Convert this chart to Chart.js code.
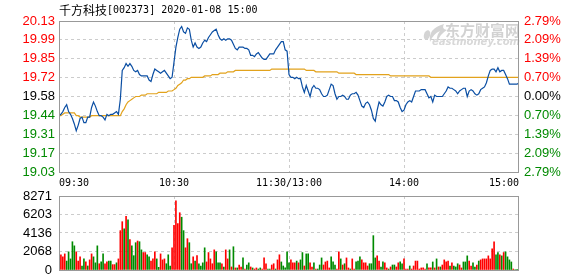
<!DOCTYPE html>
<html>
<head>
<meta charset="utf-8">
<script src="https://cdn.jsdelivr.net/npm/chart.js@4"></script>
<style>
  html, body { margin: 0; padding: 0; background: #fff; }
  #wrap { position: relative; width: 578px; height: 276px; }
  #priceChart { position: absolute; left: 0; top: 0; }
  #volChart { position: absolute; left: 0; top: 186px; }
</style>
</head>
<body>
<div id="wrap">
  <canvas id="priceChart" width="578" height="192"></canvas>
  <canvas id="volChart" width="578" height="90"></canvas>
</div>
<script>
// 千方科技 intraday (分时) chart, 2020-01-08

const stockName = '千方科技';
const stockCode = '002373';
const stamp = '2020-01-08 15:00';

// x ticks (minutes from 09:30, lunch break collapsed)
const timeTicks = [0, 60, 120, 180, 240];
const timeLabels = ['09:30', '10:30', '11:30/13:00', '14:00', '15:00'];

// left / right axis labels, top to bottom
const priceLabels = ['20.13', '19.99', '19.85', '19.72', '19.58', '19.44', '19.31', '19.17', '19.03'];
const pctLabels = ['2.79%', '2.09%', '1.39%', '0.70%', '0.00%', '0.70%', '1.39%', '2.09%', '2.79%'];
const volTicks = [0, 2068, 4136, 6203, 8271];

// last price, one per minute (241 points)
const prices = [
  19.44,19.45,19.47,19.50,19.52,19.47,19.45,19.42,19.38,19.33,
  19.37,19.42,19.43,19.39,19.39,19.43,19.43,19.50,19.54,19.51,
  19.47,19.44,19.44,19.43,19.41,19.45,19.44,19.45,19.45,19.46,
  19.47,19.45,19.56,19.77,19.79,19.82,19.80,19.82,19.80,19.77,
  19.76,19.77,19.74,19.73,19.73,19.73,19.73,19.70,19.69,19.74,
  19.78,19.77,19.76,19.75,19.76,19.77,19.75,19.73,19.71,19.72,
  19.83,19.94,20.01,20.07,20.09,20.05,20.04,20.08,20.07,19.99,
  19.94,19.97,19.94,19.93,19.94,19.97,19.99,19.98,20.01,20.03,
  20.05,20.06,20.07,20.03,20.00,19.99,20.00,19.99,20.00,20.00,
  19.99,19.96,19.93,19.92,19.94,19.94,19.94,19.93,19.93,19.92,
  19.88,19.88,19.87,19.89,19.90,19.88,19.86,19.85,19.85,19.87,
  19.89,19.89,19.89,19.92,19.94,19.96,19.98,19.98,19.92,19.91,
  19.74,19.72,19.72,19.71,19.72,19.71,19.71,19.65,19.61,19.66,
  19.62,19.58,19.64,19.66,19.64,19.64,19.63,19.60,19.58,19.58,
  19.59,19.63,19.67,19.66,19.60,19.56,19.58,19.58,19.59,19.58,
  19.56,19.56,19.59,19.60,19.60,19.61,19.59,19.55,19.51,19.50,
  19.53,19.54,19.52,19.48,19.42,19.40,19.48,19.54,19.52,19.51,
  19.54,19.58,19.59,19.58,19.58,19.55,19.55,19.54,19.50,19.47,
  19.48,19.52,19.54,19.55,19.54,19.58,19.62,19.62,19.62,19.63,
  19.63,19.63,19.60,19.57,19.58,19.54,19.59,19.58,19.58,19.58,
  19.58,19.60,19.62,19.65,19.64,19.64,19.63,19.62,19.60,19.62,
  19.63,19.64,19.64,19.58,19.62,19.63,19.62,19.60,19.59,19.60,
  19.63,19.64,19.65,19.68,19.73,19.77,19.78,19.78,19.76,19.79,
  19.76,19.77,19.77,19.74,19.71,19.67,19.67,19.67,19.67,19.67,
  19.68
];

// average price line (均价)
const avgPrices = [
  19.44,19.44,19.45,19.46,19.46,19.46,19.46,19.46,19.46,19.44,
  19.44,19.43,19.43,19.43,19.43,19.43,19.43,19.44,19.44,19.44,
  19.44,19.44,19.44,19.44,19.44,19.44,19.44,19.44,19.44,19.44,
  19.44,19.44,19.44,19.47,19.49,19.52,19.54,19.55,19.56,19.57,
  19.58,19.58,19.58,19.59,19.59,19.59,19.60,19.60,19.60,19.60,
  19.60,19.60,19.61,19.61,19.61,19.61,19.61,19.62,19.62,19.62,
  19.63,19.64,19.66,19.67,19.68,19.70,19.70,19.71,19.71,19.72,
  19.72,19.72,19.72,19.72,19.72,19.72,19.73,19.73,19.73,19.73,
  19.74,19.74,19.74,19.74,19.75,19.75,19.75,19.75,19.76,19.76,
  19.76,19.76,19.77,19.77,19.77,19.77,19.77,19.77,19.77,19.77,
  19.77,19.77,19.77,19.77,19.77,19.77,19.77,19.77,19.77,19.77,
  19.77,19.78,19.78,19.78,19.78,19.78,19.78,19.78,19.78,19.78,
  19.78,19.78,19.78,19.78,19.78,19.78,19.78,19.78,19.78,19.77,
  19.77,19.77,19.77,19.77,19.76,19.76,19.76,19.76,19.76,19.76,
  19.76,19.76,19.76,19.76,19.76,19.76,19.75,19.75,19.75,19.75,
  19.75,19.75,19.75,19.75,19.75,19.74,19.74,19.74,19.74,19.74,
  19.74,19.74,19.74,19.74,19.74,19.74,19.74,19.74,19.74,19.74,
  19.74,19.74,19.74,19.73,19.73,19.73,19.73,19.73,19.73,19.73,
  19.73,19.73,19.73,19.73,19.73,19.73,19.73,19.73,19.73,19.73,
  19.73,19.73,19.73,19.73,19.72,19.72,19.72,19.72,19.72,19.72,
  19.72,19.72,19.72,19.72,19.72,19.72,19.72,19.72,19.72,19.72,
  19.72,19.72,19.72,19.72,19.72,19.72,19.72,19.72,19.72,19.72,
  19.72,19.72,19.72,19.72,19.72,19.72,19.72,19.72,19.72,19.72,
  19.72,19.72,19.72,19.72,19.72,19.72,19.72,19.72,19.72,19.72,
  19.72
];

// volume per minute (手)
const volumes = [
  4290,1690,1470,1800,1000,2030,1240,3160,2700,2030,
  1000,1470,450,1240,900,450,1130,1800,1470,800,
  2700,700,900,1800,700,900,1000,1000,600,600,
  800,1240,4400,5400,4600,6000,5600,3400,2700,1600,
  3050,3240,3160,2250,1950,1950,1700,1470,1000,1240,
  2030,1240,300,1800,1130,1240,700,1700,450,2480,
  5000,7720,5200,6400,5900,4400,2480,3500,3050,700,
  1470,1000,1600,700,450,800,2480,900,1950,1240,
  700,2250,2030,800,800,700,340,2250,1240,2250,
  340,2600,230,230,560,340,1350,110,560,800,
  340,230,110,230,110,230,110,1350,700,110,
  110,560,700,110,1130,1700,900,450,230,2030,
  800,1130,800,800,1000,800,1130,1950,450,1800,
  1800,800,340,800,110,110,560,1350,560,900,
  1000,230,1470,900,560,110,2030,1240,560,700,
  1350,230,110,1240,110,900,1000,1470,1130,800,
  800,450,700,700,3840,1350,1580,1000,340,900,
  800,230,110,340,560,560,340,800,900,700,
  1240,110,110,450,110,450,1000,1000,110,230,
  230,110,700,230,230,900,230,1240,340,340,
  560,1130,900,1000,450,800,450,340,700,560,
  230,900,900,1580,1000,450,800,340,560,1000,
  1130,1240,1240,1240,1580,1240,2370,3160,1700,1950,
  1700,1580,1950,2030,1470,1130,900,110,60,40,
  2140
];

// 1 = up tick (red), -1 = down tick (green)
const volDir = [
   1, 1, 1, 1,-1,-1,-1,-1,-1, 1,
   1, 1,-1,-1, 1,-1, 1, 1,-1,-1,
  -1, 1,-1,-1, 1, 1,-1,-1, 1, 1,
  -1, 1, 1, 1,-1, 1,-1, 1,-1,-1,
  -1, 1,-1,-1, 1, 1,-1,-1, 1, 1,
   1,-1,-1, 1, 1, 1,-1,-1,-1, 1,
   1, 1, 1, 1,-1,-1, 1, 1,-1,-1,
   1,-1, 1,-1,-1,-1,-1, 1, 1, 1,
   1, 1,-1,-1,-1, 1,-1, 1, 1,-1,
   1,-1, 1,-1, 1, 1,-1, 1,-1,-1,
   1,-1, 1, 1,-1,-1, 1, 1, 1,-1,
  -1, 1, 1,-1, 1, 1,-1,-1,-1,-1,
  -1, 1, 1, 1,-1, 1,-1,-1, 1,-1,
  -1, 1, 1,-1, 1,-1,-1,-1, 1, 1,
   1, 1,-1,-1,-1, 1, 1,-1, 1,-1,
   1, 1,-1, 1, 1,-1,-1,-1, 1, 1,
   1, 1,-1,-1,-1,-1, 1, 1,-1,-1,
   1, 1,-1, 1,-1,-1, 1, 1,-1,-1,
   1, 1, 1,-1, 1, 1, 1, 1, 1, 1,
   1, 1,-1, 1, 1,-1, 1,-1, 1,-1,
   1, 1, 1, 1,-1, 1,-1,-1,-1, 1,
   1,-1,-1,-1, 1, 1,-1,-1, 1,-1,
   1, 1, 1, 1, 1, 1, 1, 1,-1,-1,
   1,-1, 1,-1,-1,-1,-1, 1,-1,-1,
   1
];

const UP = '#ff0000';
const DOWN = '#008a00';
const GRID = '#cccccc';
const FRAME = '#999999';
const PLOT_LEFT = 59;   // width of left label column
const PLOT_RIGHT = 59;  // width of right label column

function tickColor(i) {
    if (i < 4) return UP;
    if (i === 4) return '#000000';
    return DOWN;
}

// draw a frame round the plot area
const framePlugin = {
    id: 'frame',
    afterDraw(chart) {
        const a = chart.chartArea;
        const ctx = chart.ctx;
        ctx.save();
        ctx.strokeStyle = FRAME;
        ctx.lineWidth = 1;
        ctx.strokeRect(Math.round(a.left) + 0.5, Math.round(a.top) + 0.5,
            Math.round(a.right - a.left) - 1, Math.round(a.bottom - a.top));
        ctx.restore();
    }
};

// title + faint site watermark
const decoPlugin = {
    id: 'deco',
    beforeDatasetsDraw(chart) {
        const ctx = chart.ctx;
        ctx.save();
        // little flame-shaped logo
        ctx.fillStyle = '#d4d4d4';
        ctx.beginPath();
        ctx.moveTo(444, 24);
        ctx.quadraticCurveTo(428, 28, 430, 42);
        ctx.quadraticCurveTo(433, 34, 440, 31);
        ctx.quadraticCurveTo(436, 36, 437, 42);
        ctx.quadraticCurveTo(441, 33, 447, 30);
        ctx.quadraticCurveTo(441, 29, 444, 24);
        ctx.closePath();
        ctx.fill();
        ctx.beginPath();
        ctx.ellipse(427, 35, 3, 5, 0.3, 0, Math.PI * 2);
        ctx.fill();

        ctx.fillStyle = '#d2d2d2';
        ctx.textBaseline = 'middle';
        ctx.textAlign = 'right';
        ctx.font = 'bold 15px "Noto Sans CJK SC"';
        ctx.fillText('东方财富网', 520, 30);
        ctx.font = 'italic bold 10px "DejaVu Sans"';
        ctx.fillStyle = '#d8d8d8';
        ctx.fillText('eastmoney.com', 520, 42);
        ctx.restore();
    },
    afterDraw(chart) {
        const ctx = chart.ctx;
        ctx.save();
        ctx.fillStyle = '#000';
        ctx.textBaseline = 'middle';
        ctx.textAlign = 'left';
        ctx.font = '12px "Noto Sans CJK SC"';
        ctx.fillText(stockName, 59, 10);
        const w = ctx.measureText(stockName).width;
        ctx.font = '10px "DejaVu Sans Mono"';
        ctx.fillText('[' + stockCode + '] ' + stamp, 59 + w, 10);
        ctx.restore();
    }
};

function timeAxis(showLabels) {
    return {
        type: 'linear',
        offset: false,
        min: timeTicks[0],
        max: timeTicks[timeTicks.length - 1],
        afterBuildTicks: s => { s.ticks = timeTicks.map(v => ({ value: v })); },
        afterFit: s => { s.height = showLabels ? 20 : 0; },
        ticks: {
            display: showLabels,
            autoSkip: false,
            maxRotation: 0,
            align: 'inner',
            padding: 5,
            color: '#000',
            font: { family: 'DejaVu Sans Mono', size: 10 },
            callback: (v, i) => timeLabels[i]
        },
        grid: {
            offset: false,
            drawTicks: false,
            color: c => (c.index === 0 || c.index === timeTicks.length - 1) ? 'rgba(0,0,0,0)' : GRID
        },
        border: { display: false, dash: [3, 3] }
    };
}

const priceMin = Number(priceLabels[priceLabels.length - 1]);
const priceMax = Number(priceLabels[0]);
const evenPriceTicks = s => {
    const n = priceLabels.length - 1;
    s.ticks = priceLabels.map((_, i) => ({ value: priceMax - i * (priceMax - priceMin) / n }));
};

new Chart(document.getElementById('priceChart'), {
    type: 'line',
    data: {
        datasets: [
            {
                label: '价格',
                data: prices.map((p, i) => ({ x: i, y: p })),
                borderColor: '#0a4ea3',
                borderWidth: 1.2,
                pointRadius: 0,
                tension: 0,
                order: 1
            },
            {
                label: '均价',
                data: avgPrices.map((p, i) => ({ x: i, y: p })),
                borderColor: '#e2a21c',
                borderWidth: 1.2,
                pointRadius: 0,
                tension: 0,
                order: 2
            }
        ]
    },
    options: {
        responsive: false,
        animation: false,
        devicePixelRatio: 1,
        layout: { padding: { top: 21, left: 0, right: 0, bottom: 0 } },
        plugins: { legend: { display: false }, tooltip: { enabled: false } },
        scales: {
            x: timeAxis(true),
            y: {
                type: 'linear',
                position: 'left',
                min: priceMin,
                max: priceMax,
                afterBuildTicks: evenPriceTicks,
                afterFit: s => { s.width = PLOT_LEFT; s.paddingTop = 0; s.paddingBottom = 0; },
                ticks: {
                    padding: 4,
                    autoSkip: false,
                    font: { family: 'Liberation Sans', size: 13 },
                    color: c => tickColor(c.index),
                    callback: (v, i) => priceLabels[i]
                },
                grid: {
                    drawTicks: false,
                    color: c => (c.index === 0 || c.index === priceLabels.length - 1) ? 'rgba(0,0,0,0)' : GRID
                },
                border: { display: false, dash: [3, 3] }
            },
            y2: {
                type: 'linear',
                position: 'right',
                min: priceMin,
                max: priceMax,
                afterBuildTicks: evenPriceTicks,
                afterFit: s => { s.width = PLOT_RIGHT; s.paddingTop = 0; s.paddingBottom = 0; },
                ticks: {
                    padding: 5,
                    autoSkip: false,
                    font: { family: 'Liberation Sans', size: 13 },
                    color: c => tickColor(c.index),
                    callback: (v, i) => pctLabels[i]
                },
                grid: { drawOnChartArea: false, drawTicks: false },
                border: { display: false }
            }
        }
    },
    plugins: [framePlugin, decoPlugin]
});

new Chart(document.getElementById('volChart'), {
    type: 'bar',
    data: {
        datasets: [{
            label: '成交量',
            data: volumes.map((v, i) => ({ x: i, y: v })),
            backgroundColor: volDir.map(d => d > 0 ? UP : DOWN),
            barThickness: 1,
            borderWidth: 0
        }]
    },
    options: {
        responsive: false,
        animation: false,
        devicePixelRatio: 1,
        layout: { padding: { top: 10, left: 0, right: PLOT_RIGHT, bottom: 6 } },
        plugins: { legend: { display: false }, tooltip: { enabled: false } },
        scales: {
            x: timeAxis(false),
            y: {
                type: 'linear',
                min: volTicks[0],
                max: volTicks[volTicks.length - 1],
                afterBuildTicks: s => { s.ticks = volTicks.map(v => ({ value: v })); },
                afterFit: s => { s.width = PLOT_LEFT; s.paddingTop = 0; s.paddingBottom = 0; },
                ticks: {
                    padding: 7,
                    autoSkip: false,
                    color: '#000',
                    font: { family: 'Liberation Sans', size: 13 },
                    callback: v => String(v)
                },
                grid: {
                    drawTicks: false,
                    color: c => (c.index === 0 || c.index === volTicks.length - 1) ? 'rgba(0,0,0,0)' : GRID
                },
                border: { display: false, dash: [3, 3] }
            }
        }
    },
    plugins: [framePlugin]
});
</script>
</body>
</html>
